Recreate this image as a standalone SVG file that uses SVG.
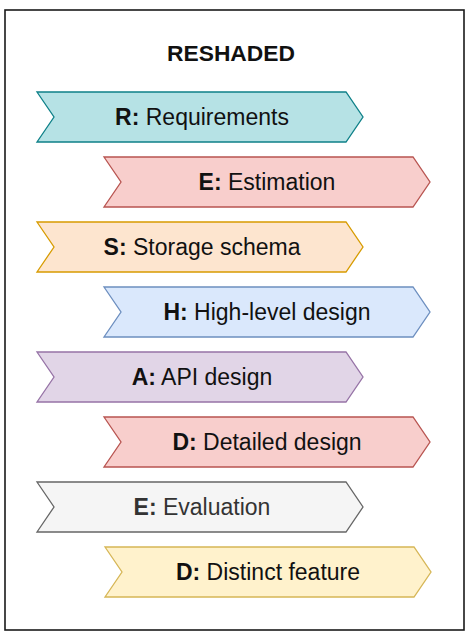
<svg xmlns="http://www.w3.org/2000/svg" width="474" height="640" viewBox="0 0 474 640">
<style>
.t{font-family:"Liberation Sans",Arial,Helvetica,sans-serif;font-size:23px;fill:#111;text-anchor:middle}
.h{font-size:22.8px}
.b{font-weight:bold}
.s{stroke-width:1.3;stroke-linejoin:miter}
</style>
<defs>
<polygon id="L" points="37,0 346,0 363,25 346,50 37,50 54,25"/>
<polygon id="Rt" points="104,0 413,0 430,25 413,50 104,50 121,25"/>
</defs>
<rect x="5" y="10" width="459" height="620" fill="#fff" stroke="#1a1a1a" stroke-width="1.6"/>
<g id="title"><text class="t b h" x="231" y="61">RESHADED</text></g>
<g id="connectors"/>
<g id="n1"><use href="#L" y="92" class="s" fill="#b6e2e5" stroke="#0e8088"/><text class="t" x="202" y="125"><tspan class="b">R:</tspan> Requirements</text></g>
<g id="n2"><use href="#Rt" y="157" class="s" fill="#f8cecc" stroke="#b85450"/><text class="t" x="267" y="190"><tspan class="b">E:</tspan> Estimation</text></g>
<g id="n3"><use href="#L" y="222" class="s" fill="#fde5cf" stroke="#d79b00"/><text class="t" x="202" y="255"><tspan class="b">S:</tspan> Storage schema</text></g>
<g id="n4"><use href="#Rt" y="287" class="s" fill="#dae8fc" stroke="#6c8ebf"/><text class="t" x="267" y="320"><tspan class="b">H:</tspan> High-level design</text></g>
<g id="n5"><use href="#L" y="352" class="s" fill="#e1d5e7" stroke="#9673a6"/><text class="t" x="202" y="385"><tspan class="b">A:</tspan> API design</text></g>
<g id="n6"><use href="#Rt" y="417" class="s" fill="#f8cecc" stroke="#b85450"/><text class="t" x="267" y="450"><tspan class="b">D:</tspan> Detailed design</text></g>
<g id="n7"><use href="#L" y="482" class="s" fill="#f5f5f5" stroke="#666666"/><text class="t" x="202" y="515" style="fill:#333"><tspan class="b">E:</tspan> Evaluation</text></g>
<g id="n8"><use href="#Rt" x="1" y="547" class="s" fill="#fff2cc" stroke="#d6b656"/><text class="t" x="268" y="580"><tspan class="b">D:</tspan> Distinct feature</text></g>
</svg>
